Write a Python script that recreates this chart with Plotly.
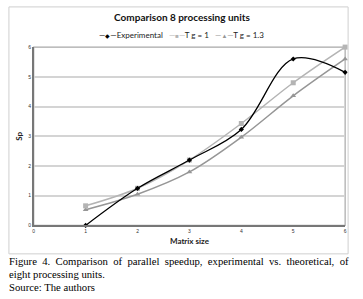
#speedup chart, 8 processing units

#%%
import plotly.graph_objects as go

#%%
#data
matrix_size = [1, 2, 3, 4, 5, 6]
experimental = [0.0, 1.25, 2.2, 3.23, 5.6, 5.15]
tg_1 = [0.66, 1.25, 2.2, 3.43, 4.8, 6.0]
tg_13 = [0.53, 1.05, 1.8, 2.97, 4.36, 5.6]

ticks = [0, 1, 2, 3, 4, 5, 6]

caption = ["Figure 4. Comparison of parallel speedup, experimental vs. theoretical, of",
           "eight processing units.",
           "Source: The authors"]

#%%
fig = go.Figure()

series = [
    ("Experimental", experimental, "black", "diamond", 4, "◆"),
    ("T g = 1", tg_1, "#b4b4b4", "square", 5, "■"),
    ("T g = 1.3", tg_13, "#969696", "triangle-up", 5, "▲"),
]

for name, vals, col, sym, size, glyph in reversed(series):
    fig.add_trace(go.Scatter(
        x=matrix_size, y=vals, name=name, showlegend=False, cliponaxis=False,
        mode="lines+markers", line=dict(color=col, width=1.5 if col != "black" else 1.3, shape="spline"),
        marker=dict(symbol=sym, size=size, color=col),
    ))

#compact legend like the excel one, as a single text line
legend_txt = "   ".join(
    f'<span style="color:{col}">—<span style="font-size:6px">{glyph}</span>—</span>{name}'
    for name, vals, col, sym, size, glyph in series
)
fig.add_annotation(text=legend_txt, xref="paper", yref="paper", x=182 / 363, y=1 - 33 / 299,
                   xanchor="center", yanchor="middle", showarrow=False,
                   font=dict(family="Lato", size=8, color="#222"))

tick_font = dict(family="Liberation Sans", size=5, color="#333")
label_font = dict(family="Lato", size=8, color="#222")

fig.update_xaxes(
    range=[0, 6], tickvals=ticks, domain=[33 / 363, 347 / 363],
    showgrid=False, zeroline=False, showline=True, linecolor="#777", linewidth=1.5,
    tickfont=tick_font, ticks="", ticklen=0,
    title=dict(text="<b>Matrix size</b>", font=label_font, standoff=5),
)
fig.update_yaxes(
    range=[0, 6], tickvals=ticks, domain=[1 - 227 / 299, 1 - 45 / 299],
    showgrid=True, gridcolor="#d4d4d4", gridwidth=1.5, zeroline=False,
    showline=True, linecolor="#777", linewidth=1.5,
    tickfont=tick_font, ticks="",
    title=dict(text="<b>Sp</b>", font=label_font, standoff=4),
)

#plot area box and outer chart border
fig.add_shape(type="rect", xref="paper", yref="paper",
              x0=33 / 363, x1=347 / 363, y0=1 - 227 / 299, y1=1 - 45 / 299,
              line=dict(color="#a8a8a8", width=1.2), layer="below")
fig.add_shape(type="rect", xref="paper", yref="paper",
              x0=8 / 363, x1=350 / 363, y0=1 - 256 / 299, y1=1 - 4 / 299,
              line=dict(color="#cfcfcf", width=1))

#caption, first line stretched out (justified in the paper)
for i, line in enumerate(caption):
    if i == 0:
        line = line.replace(" ", " \u00a0")
    fig.add_annotation(
        text=line, xref="paper", yref="paper", x=6 / 363, y=1 - (263 + 13.5 * i) / 299,
        xanchor="left", yanchor="middle", showarrow=False,
        font=dict(family="Liberation Serif", size=10.7, color="black"),
    )

margins = {"t": 0, "b": 0, "l": 0, "r": 0}

fig.update_layout(
    width=363, height=299, margin=margins,
    paper_bgcolor="white", plot_bgcolor="white",
    title=dict(text="<b>Comparison 8 processing units</b>", x=182 / 363, y=1 - 17 / 299,
               xanchor="center", yanchor="middle",
               font=dict(family="Lato", size=10, color="#111")),
    showlegend=False,
)

#page has a default body margin, drop it so the figure sits at the corner
fig.write_html("out.html", config={"displayModeBar": False},
               post_script="document.body.style.margin='0px';")
